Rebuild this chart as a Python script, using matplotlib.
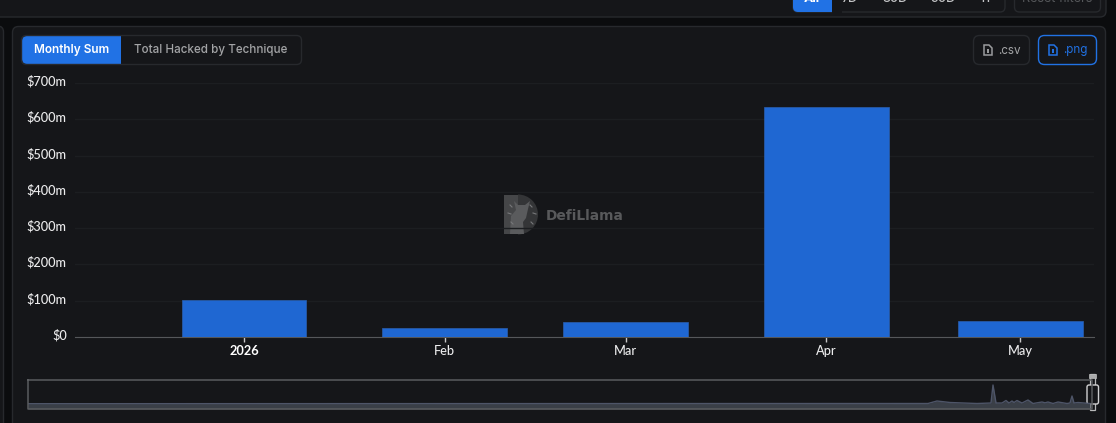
"""Monthly hacked sum chart, dark dashboard style."""

from datetime import date

import matplotlib
matplotlib.use("Agg")
import matplotlib.pyplot as plt
import matplotlib.dates as mdates
from matplotlib.patches import FancyBboxPatch, Rectangle, Polygon, Wedge
from matplotlib.transforms import ScaledTranslation


W, H = 1116, 423

months = ["2026-01-01", "2026-02-01", "2026-03-01", "2026-04-01", "2026-05-01"]
month_labels = ["2026", "Feb", "Mar", "Apr", "May"]
monthly_sum = [102, 25, 41, 634, 44]  # $m
y_ticks = [0, 100, 200, 300, 400, 500, 600, 700]

# overview sparkline in the slider: position along the slider, height above base
spark_pos = [28, 928, 937, 950, 977, 991, 993, 996, 1002, 1006, 1009, 1012, 1014, 1017,
             1022, 1028, 1033, 1042, 1045, 1048, 1053, 1058, 1067, 1070, 1072, 1074,
             1078, 1090]
spark_val = [0.3, 0.5, 3, 1.5, 0.5, 1, 19, 1, 1, 3.5, 1, 3, 1.5, 3.5,
             1, 4, 0.5, 2, 1.2, 2, 0.5, 2, 0.5, 1, 8, 1, 1.5, 0.5]

range_buttons = ["All", "7D", "30D", "90D", "1Y"]
range_centers = [812, 850, 895, 943, 986]

PAGE = "#0b0c0e"
PANEL = "#151619"
BORDER = "#27292d"
BLUE = "#2172e5"
BAR = "#1f67d2"
FONT = "Inter"
TICK_TEXT = "#ececed"


def px_ax_rect(x0, y0, x1, y1):
    """Figure fraction rectangle from pixel box (y from the top)."""
    return [x0 / W, 1 - y1 / H, (x1 - x0) / W, (y1 - y0) / H]


def button(ax, x0, y0, x1, y1, edge=BORDER, face="none", lw=1.0, r=5):
    ax.add_patch(FancyBboxPatch((x0 + r, y0 + r), x1 - x0 - 2 * r, y1 - y0 - 2 * r,
                                boxstyle=f"round,pad={r},rounding_size={r}",
                                fc=face, ec=edge, lw=lw))


def file_icon(ax, x, y, color):
    ax.add_patch(Polygon([(x, y), (x + 5, y), (x + 8, y + 3), (x + 8, y + 10), (x, y + 10)],
                         closed=True, fc="none", ec=color, lw=1.1))
    ax.add_patch(Rectangle((x + 3, y + 4.5), 2, 3.5, fc=color, ec="none"))


fig = plt.figure(figsize=(W / 100, H / 100), dpi=100, facecolor=PAGE)

# page chrome is drawn in pixel coordinates
bg = fig.add_axes([0, 0, 1, 1])
bg.set_xlim(0, W)
bg.set_ylim(H, 0)
bg.axis("off")

button(bg, -20, -20, 1106, 17, face=PANEL, r=6)
button(bg, -20, 26, 3.5, H + 20, face=PANEL, r=6)
button(bg, 12.5, 26.5, 1105.5, H + 20, face=PANEL, r=6)

# top right filter buttons, cut off by the screenshot
button(bg, 793, -20, 1005, 12, face=PANEL, r=5)
button(bg, 793, -20, 840, 12, edge="none", face=BLUE, r=5)
bg.add_patch(Rectangle((832, -20), 10, 33, fc=PANEL, ec="none"))
for label, cx in zip(range_buttons, range_centers):
    bg.text(cx, -1, label, color="#ffffff" if label == "All" else "#c4c5c7", fontsize=9,
            family=FONT, weight="bold" if label == "All" else "medium", ha="center", va="center")
button(bg, 1014.5, -20, 1100.5, 12, r=5)
bg.text(1057, -1, "Reset filters", color="#56585b", fontsize=9, family=FONT, ha="center", va="center")

# chart tabs
button(bg, 22, 36, 130, 64, edge="none", face=BLUE, r=5)
bg.add_patch(Rectangle((121, 35), 12, 30, fc=PANEL, ec="none"))
button(bg, 21.5, 35.5, 301.5, 64.5, r=5)
bg.text(71.5, 50, "Monthly Sum", color="#ffffff", fontsize=8.5, family=FONT, weight="semibold",
        ha="center", va="center")
bg.text(211, 50, "Total Hacked by Technique", color="#a3a4a6", fontsize=8.4, family=FONT,
        weight="medium", ha="center", va="center")

# export buttons
button(bg, 973.5, 35.5, 1029.5, 64.5, r=6)
file_icon(bg, 984, 45, "#9a9b9d")
bg.text(1009, 50.5, ".csv", color="#a3a4a6", fontsize=8.4, family=FONT, ha="center", va="center")
button(bg, 1038.5, 35.5, 1096.5, 64.5, edge=BLUE, r=6)
file_icon(bg, 1049, 45, BLUE)
bg.text(1075.5, 50.5, ".png", color=BLUE, fontsize=8.4, family=FONT, ha="center", va="center")

# watermark, sits behind the bars and grid
bg.add_patch(Rectangle((504, 195), 14, 39, fc="#454648", ec="none"))
bg.add_patch(Wedge((518, 214.5), 20, -90, 90, fc="#343537", ec="none"))
bg.add_patch(Polygon([(514, 201), (518, 205), (525, 205), (530, 201), (528, 209), (526, 218),
                      (523, 222), (524, 234), (510, 234), (511, 216), (516, 210)],
                     closed=True, fc="#5a5b5d", ec="none"))
for x0, y0, x1, y1 in [(508, 213, 511, 214), (533, 213, 536, 214), (511, 222, 513, 224),
                       (531, 222, 533, 224), (530, 205, 532, 207), (510, 205, 512, 207)]:
    bg.plot([x0, x1], [y0, y1], color="#77787a", lw=0.8)
bg.text(546, 215.5, "DefiLlama", color="#58595b", fontsize=9.9, family="DejaVu Sans",
        weight="bold", ha="left", va="center")

# bars, time scale so the month gaps come out uneven
dates = [date.fromisoformat(m) for m in months]
day0 = mdates.date2num(dates[0])
PX_PER_DAY = 6.47
PLOT_X0, PLOT_X1 = 75, 1094
ax = fig.add_axes(px_ax_rect(PLOT_X0, 83, PLOT_X1, 337))
ax.patch.set_alpha(0)
ax.set_xlim(day0 - (244 - PLOT_X0) / PX_PER_DAY, day0 + (PLOT_X1 - 244) / PX_PER_DAY)
ax.set_ylim(0, 700)
ax.xaxis_date()

ax.set_yticks(y_ticks)
ax.set_yticklabels([f"${v}m" if v else "$0" for v in y_ticks], color=TICK_TEXT,
                   fontsize=9.2, family="Lato", weight="medium")
ax.tick_params(axis="y", length=0, pad=6)
ax.grid(axis="y", color="#1c1e21", lw=1)
ax.set_axisbelow(True)
# the labels sit a little above their grid lines
up = ScaledTranslation(0, 2 / 72, fig.dpi_scale_trans)
for lab in ax.get_yticklabels():
    lab.set_transform(lab.get_transform() + up)

ax.set_xticks([mdates.date2num(d) for d in dates])
ax.set_xticklabels(month_labels, color=TICK_TEXT, fontsize=9.2, family="Lato", weight="medium")
ax.get_xticklabels()[0].set_fontweight("bold")
ax.get_xticklabels()[0].set_color("#ffffff")
ax.tick_params(axis="x", length=3.6, width=1, color="#c8c8c8", pad=2)

for side in ["top", "right", "left"]:
    ax.spines[side].set_visible(False)
ax.spines["bottom"].set_color("#55575a")

ax.bar(dates, monthly_sum, width=124.5 / PX_PER_DAY, color=BAR, edgecolor="#2a5fae", lw=0.5, zorder=3)

# overview slider below the chart
sl = fig.add_axes(px_ax_rect(28, 380, 1096, 409))
sl.patch.set_alpha(0)
sl.set_xlim(28, 1096)
sl.set_ylim(-5, 24)
sl.axis("off")
sl.fill_between(spark_pos, -5, spark_val, color="#3a3f47", lw=0)
sl.plot(spark_pos, spark_val, color="#4e5568", lw=1)
sl.plot([28, 28, 1092, 1092, 28], [24, -4.7, -4.7, 24, 24], color="#5a5c5f", lw=1.1, clip_on=False)

# slider handle
bg.add_patch(Rectangle((1090, 374), 5, 36, fc=PANEL, ec="#b9babb", lw=0.9, zorder=5))
bg.add_patch(Rectangle((1089, 374), 7, 4, fc="#a9aaab", ec="#b9babb", lw=0.5, zorder=5))
bg.add_patch(FancyBboxPatch((1088, 386), 9.5, 17, boxstyle="round,pad=1,rounding_size=2",
                            fc=PANEL, ec="#d0d0d1", lw=1, zorder=5))

fig.savefig("out.png", dpi=100, facecolor=PAGE)
